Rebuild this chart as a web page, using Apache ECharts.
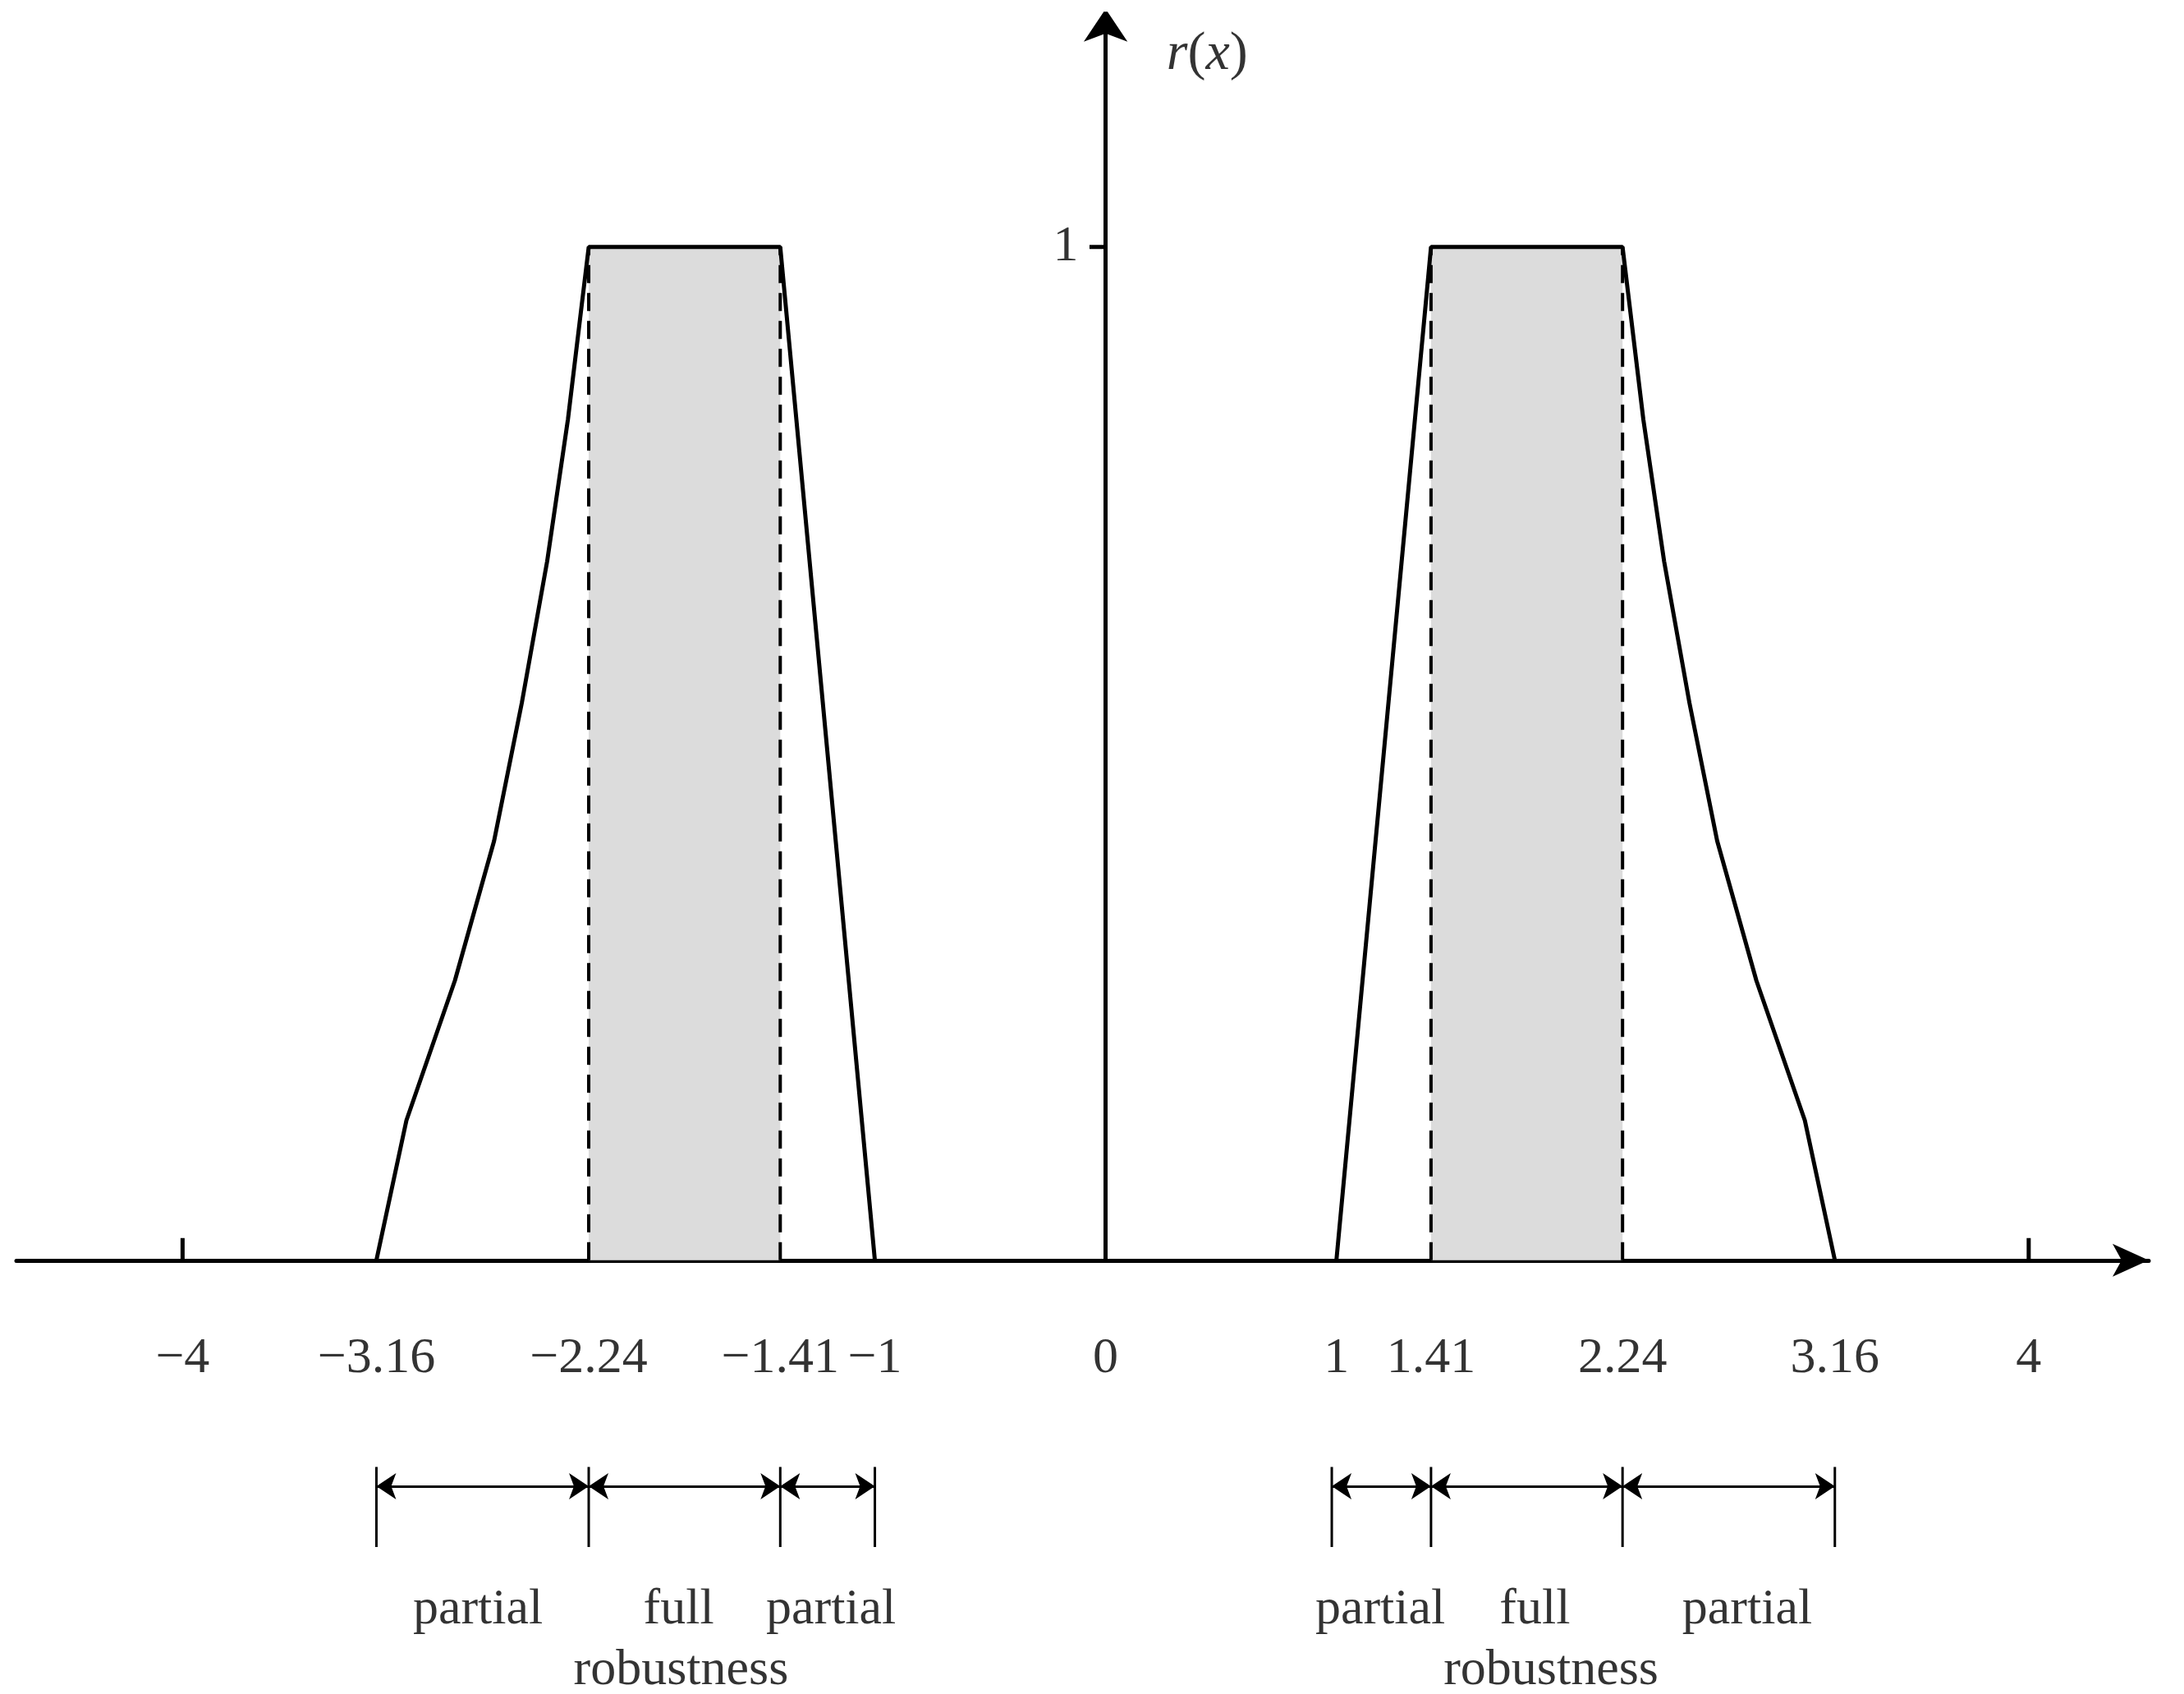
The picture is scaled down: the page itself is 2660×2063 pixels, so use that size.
<!DOCTYPE html>
<html>
<head>
<meta charset="utf-8">
<script src="https://cdn.jsdelivr.net/npm/echarts@6/dist/echarts.min.js"></script>
<style>html,body{margin:0;padding:0;background:#fff}#c{width:2660px;height:2063px}</style>
</head>
<body>
<div id="c"></div>
<script>
// r(x) outline
const leftCurve = [[-3.16, 0], [-3.03, 0.138], [-2.82, 0.276], [-2.65, 0.414], [-2.53, 0.55], [-2.42, 0.69], [-2.33, 0.83], [-2.24, 1], [-1.41, 1], [-1, 0]];
const rightCurve = [[1, 0], [1.41, 1], [2.24, 1], [2.33, 0.83], [2.42, 0.69], [2.53, 0.55], [2.65, 0.414], [2.82, 0.276], [3.03, 0.138], [3.16, 0]];
const fullBands = [[-2.24, -1.41], [1.41, 2.24]];
const tickValues = [-4, -3.16, -2.24, -1.41, -1, 0, 1, 1.41, 2.24, 3.16, 4];
const tickLabels = ['−4', '−3.16', '−2.24', '−1.41', '−1', '0', '1', '1.41', '2.24', '3.16', '4'];
const majorTicks = [-4, 4];
const bracketsLeft = [-3.16, -2.24, -1.41, -1];
const bracketsRight = [0.98, 1.41, 2.24, 3.16];
const notes = [
  ['partial', -2.72, -0.345], ['full', -1.85, -0.345], ['robustness', -1.84, -0.405], ['partial', -1.19, -0.345],
  ['partial', 1.19, -0.345], ['full', 1.86, -0.345], ['robustness', 1.93, -0.405], ['partial', 2.78, -0.345]
];

const font = 'Liberation Serif';
const black = '#000';
const BR_Y = -0.223, BAR_TOP = -0.204, BAR_BOT = -0.283;

const series = [];
function seg(data, extra) {
  series.push(Object.assign({
    type: 'line', data: data, symbol: 'none', silent: true,
    lineStyle: { color: black, width: 5 }
  }, extra || {}));
}
// gray bands + dashed edges
fullBands.forEach(b => {
  series.push({
    type: 'line', data: [], silent: true,
    markArea: { silent: true, itemStyle: { color: '#dcdcdc' }, data: [[{ coord: [b[0], 0] }, { coord: [b[1], 1] }]] }
  });
  b.forEach(v => seg([[v, 0], [v, 1]], { lineStyle: { color: black, width: 4, type: [22, 12] }, z: 3 }));
});
seg(leftCurve, { z: 4 });
seg(rightCurve, { z: 4 });
// y axis with arrow
series.push({
  type: 'lines', coordinateSystem: 'cartesian2d', silent: true, z: 5,
  symbol: ['none', 'arrow'], symbolSize: 40,
  lineStyle: { color: black, width: 5, opacity: 1 },
  data: [{ coords: [[0, 0], [0, 1.235]] }]
});
seg([[-0.07, 1], [0, 1]]);
majorTicks.forEach(v => seg([[v, 0], [v, 0.022]]));
// brackets
[bracketsLeft, bracketsRight].forEach(arr => {
  arr.forEach(v => seg([[v, BAR_TOP], [v, BAR_BOT]], { lineStyle: { color: black, width: 3 } }));
  const d = [];
  for (let i = 0; i < arr.length - 1; i++) d.push({ coords: [[arr[i], BR_Y], [arr[i + 1], BR_Y]] });
  series.push({
    type: 'lines', coordinateSystem: 'cartesian2d', silent: true,
    symbol: ['arrow', 'arrow'], symbolSize: 24,
    lineStyle: { color: black, width: 3, opacity: 1 }, data: d
  });
});
// tick labels
series.push({
  type: 'scatter', symbolSize: 0, silent: true,
  data: tickValues.map((v, i) => ({ value: [v, -0.097], name: tickLabels[i] })),
  label: { show: true, position: 'inside', formatter: p => p.name, fontFamily: font, fontSize: 62, color: black }
});
series.push({
  type: 'scatter', symbolSize: 0, silent: true,
  data: notes.map(n => ({ value: [n[1], n[2]], name: n[0] })),
  label: { show: true, position: 'inside', formatter: p => p.name, fontFamily: font, fontSize: 62, color: black }
});
series.push({
  type: 'scatter', symbolSize: 0, silent: true,
  data: [{ value: [-0.1, 1.0], name: '1' }],
  label: { show: true, position: 'left', formatter: p => p.name, fontFamily: font, fontSize: 62, color: black }
});
series.push({
  type: 'scatter', symbolSize: 0, silent: true,
  data: [{ value: [4.56, -0.097], name: 'x' }, { value: [0.44, 1.19], name: 'rx' }],
  label: {
    show: true, position: 'inside', fontFamily: font, fontSize: 66, color: black,
    formatter: p => p.name === 'x' ? '{i|x}' : '{i|r}({i|x})',
    rich: { i: { fontStyle: 'italic', fontFamily: font, fontSize: 66, color: black } }
  }
});

const chart = echarts.init(document.getElementById('c'));
chart.setOption({
  animation: false,
  backgroundColor: '#fff',
  grid: { left: 20, right: 43, top: 17, bottom: 0 },
  xAxis: {
    type: 'value', min: -4.72, max: 4.52,
    axisLine: { onZero: true, lineStyle: { color: black, width: 5 }, symbol: ['none', 'arrow'], symbolSize: [30, 44] },
    axisTick: { show: false }, axisLabel: { show: false }, splitLine: { show: false }
  },
  yAxis: {
    type: 'value', min: -0.428, max: 1.23,
    axisLine: { show: false }, axisTick: { show: false }, axisLabel: { show: false }, splitLine: { show: false }
  },
  series: series
});
</script>
</body>
</html>
